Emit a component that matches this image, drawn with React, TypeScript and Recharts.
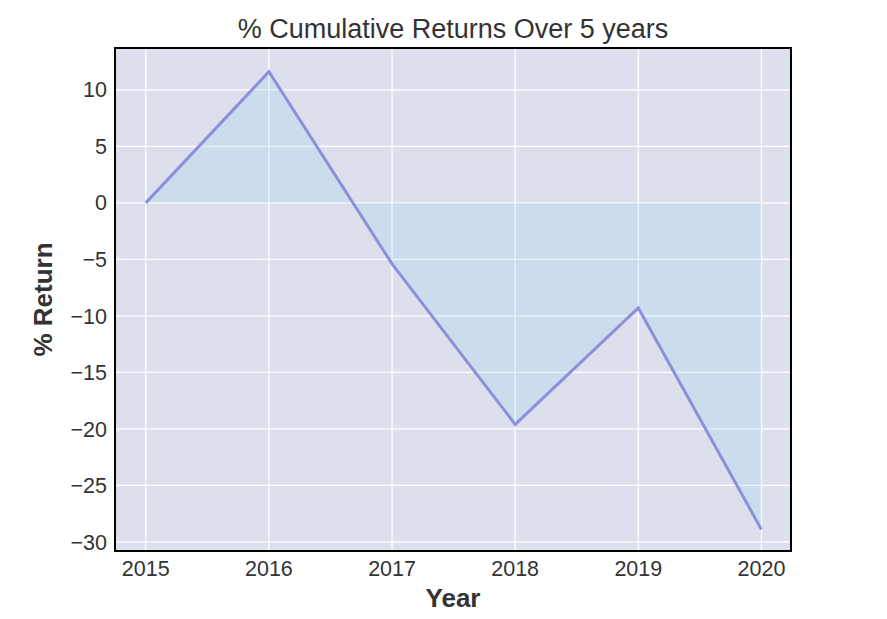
import React from "react";
import {
  ComposedChart,
  Area,
  XAxis,
  YAxis,
  CartesianGrid,
  ReferenceArea,
  Label,
} from "recharts";

const years = [2015, 2016, 2017, 2018, 2019, 2020];
const returns = [0, 11.6, -5.4, -19.6, -9.3, -28.9];
const yTicks = [-30, -25, -20, -15, -10, -5, 0, 5, 10];

const data = years.map((y, i) => ({ year: y, ret: returns[i] }));

const X_DOMAIN: [number, number] = [2014.75, 2020.24];
const Y_DOMAIN: [number, number] = [-30.8, 13.7];

const FONT = "'Liberation Sans', Arial, sans-serif";
const TXT = "#333333";

const fmt = (v: number) => (v < 0 ? "\u2212" + Math.abs(v) : String(v));

export default function App() {
  return (
    <div style={{ position: "relative", width: 871, height: 611, fontFamily: FONT }}>
      <div
        style={{
          position: "absolute",
          left: 107,
          width: 676,
          top: 6,
          textAlign: "center",
          fontSize: 27,
          lineHeight: "31px",
          color: TXT,
          fontFamily: FONT,
        }}
      >
        % Cumulative Returns Over 5 years
      </div>
      <ComposedChart
        width={871}
        height={611}
        data={data}
        margin={{ top: 40, right: 88, bottom: 8, left: 0 }}
      >
        <CartesianGrid stroke="#ffffff" strokeWidth={1.3} fill="#dce0ed" />
        <XAxis
          dataKey="year"
          type="number"
          domain={X_DOMAIN}
          ticks={years}
          allowDataOverflow
          height={60}
          axisLine={false}
          tickLine={false}
          tick={{ fill: TXT, fontSize: 21.5, fontFamily: FONT }}
          tickMargin={4}
        >
          <Label
            value="Year"
            position="insideBottom"
            offset={4}
            style={{ fill: TXT, fontSize: 26, fontWeight: "bold", fontFamily: FONT }}
          />
        </XAxis>
        <YAxis
          type="number"
          domain={Y_DOMAIN}
          ticks={yTicks}
          allowDataOverflow
          width={107}
          axisLine={false}
          tickLine={false}
          tickFormatter={fmt}
          tick={{ fill: TXT, fontSize: 21.5, fontFamily: FONT }}
          tickMargin={2}
        >
          <Label
            value="% Return"
            angle={-90}
            position="insideLeft"
            offset={35}
            style={{ fill: TXT, fontSize: 26, fontWeight: "bold", fontFamily: FONT, textAnchor: "middle" }}
          />
        </YAxis>
        <Area
          type="linear"
          dataKey="ret"
          baseValue={0}
          stroke="#8e8fdc"
          strokeWidth={3}
          fill="#87ceeb"
          fillOpacity={0.2}
          isAnimationActive={false}
          dot={false}
          activeDot={false}
        />
        <ReferenceArea
          x1={X_DOMAIN[0]}
          x2={X_DOMAIN[1]}
          y1={Y_DOMAIN[0]}
          y2={Y_DOMAIN[1]}
          fill="none"
          stroke="#000000"
          strokeWidth={2}
          ifOverflow="visible"
        />
      </ComposedChart>
    </div>
  );
}
